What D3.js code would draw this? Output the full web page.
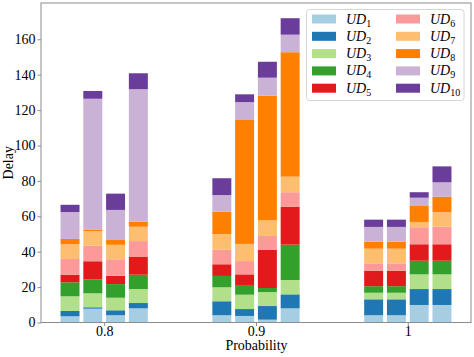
<!DOCTYPE html>
<html>
<head>
<meta charset="utf-8">
<script src="https://cdn.jsdelivr.net/npm/d3@7"></script>
<style>
  html, body { margin: 0; padding: 0; background: #fff; }
  svg { display: block; font-family: "Liberation Serif", "Times New Roman", serif; }
</style>
</head>
<body>
<svg id="chart" width="474" height="357"></svg>
<script>
// Groups on the x axis (probability) and 4 bars per group
const categories = ["0.8", "0.9", "1"];
const barsPerGroup = 4;
const yTicks = [0, 20, 40, 60, 80, 100, 120, 140, 160];
const seriesNames = ["1","2","3","4","5","6","7","8","9","10"];
const colors = ["#a6cee3","#1f78b4","#b2df8a","#33a02c","#e31a1c","#fb9a99","#fdbf6f","#ff7f00","#cab2d6","#6a3d9a"];

// Values per UD, 12 bars each: [0.8 b1..b4, 0.9 b1..b4, 1 b1..b4]
const UD1  = [3.5, 7.8, 4.1, 8.0,   4.1, 3.7, 1.6, 8.0,    4.1, 4.1, 9.9, 9.9];
const UD2  = [3.0, 0.8, 2.8, 3.0,   7.9, 3.9, 7.7, 7.9,    9.0, 9.0, 9.0, 9.0];
const UD3  = [8.3, 7.9, 7.1, 7.9,   7.9, 8.1, 7.9, 8.1,    3.7, 3.7, 8.3, 8.3];
const UD4  = [7.9, 7.9, 7.7, 8.1,   6.4, 5.5, 2.3, 20.0,   3.7, 3.7, 7.7, 7.7];
const UD5  = [4.3, 10.2, 4.7, 10.0, 6.6, 6.0, 21.5, 21.3,  8.8, 8.8, 9.3, 9.3];
const UD6  = [8.9, 8.8, 9.3, 9.0,   8.2, 7.5, 7.9, 8.3,    4.1, 4.1, 9.6, 9.9];
const UD7  = [8.3, 8.3, 8.2, 8.1,   8.9, 9.7, 8.8, 8.8,    8.3, 8.3, 3.0, 8.2];
const UD8  = [3.0, 0.6, 2.7, 2.8,   12.6, 70.0, 70.4, 70.3, 3.9, 3.9, 9.0, 8.8];
const UD9  = [15.2, 74.1, 17.0, 74.9, 9.4, 10.1, 10.2, 9.9, 8.4, 8.4, 4.7, 8.1];
const UD10 = [4.1, 4.4, 9.2, 9.0,   9.5, 4.4, 9.0, 9.3,    4.1, 4.1, 3.1, 9.0];
const series = [UD1, UD2, UD3, UD4, UD5, UD6, UD7, UD8, UD9, UD10];

const svg = d3.select("#chart");
const plot = { left: 41, right: 471, top: 3, bottom: 322.5 };
const barWidth = 0.125, barStep = 0.15;

// Build bar records
const bars = [];
for (let i = 0; i < series[0].length; i++) {
  const g = Math.floor(i / barsPerGroup), k = i % barsPerGroup;
  const center = g + (k - (barsPerGroup - 1) / 2) * barStep;
  let acc = 0;
  const segs = series.map((s, j) => { const y0 = acc; acc += s[i]; return { y0, y1: acc, j }; });
  bars.push({ center, segs, total: acc });
}
const xmin = d3.min(bars, b => b.center - barWidth / 2), xmax = d3.max(bars, b => b.center + barWidth / 2);
const xpad = (xmax - xmin) * 0.05;
const x = d3.scaleLinear().domain([xmin - xpad, xmax + xpad]).range([plot.left, plot.right]);
const ymax = d3.max(bars, b => b.total) * 1.05;
const y = d3.scaleLinear().domain([0, ymax]).range([plot.bottom, plot.top]);

// Bars
const gb = svg.append("g");
bars.forEach(b => {
  gb.selectAll(null).data(b.segs).enter().append("rect")
    .attr("x", x(b.center - barWidth / 2))
    .attr("width", x(b.center + barWidth / 2) - x(b.center - barWidth / 2))
    .attr("y", d => y(d.y1))
    .attr("height", d => y(d.y0) - y(d.y1))
    .attr("fill", d => colors[d.j]);
});

// Frame
svg.append("rect").attr("x", plot.left).attr("y", plot.top)
  .attr("width", plot.right - plot.left).attr("height", plot.bottom - plot.top)
  .attr("fill", "none").attr("stroke", "#8c8c8c").attr("stroke-width", 1);

// Y axis
const yAxis = d3.axisLeft(y).tickValues(yTicks).tickSize(3.5).tickPadding(2).tickFormat(d3.format("d"));
const gy = svg.append("g").attr("transform", `translate(${plot.left},0)`).call(yAxis);
gy.select(".domain").remove();
gy.selectAll("line").attr("stroke", "#8c8c8c");
gy.selectAll("text").attr("font-size", 14).attr("fill", "#000").attr("font-family", "Liberation Serif");

// X axis
const xAxis = d3.axisBottom(x).tickValues(categories.map((c, i) => i)).tickFormat((d, i) => categories[i]).tickSize(3.5).tickPadding(0);
const gx = svg.append("g").attr("transform", `translate(0,${plot.bottom})`).call(xAxis);
gx.select(".domain").remove();
gx.selectAll("line").attr("stroke", "#8c8c8c");
gx.selectAll("text").attr("font-size", 14).attr("fill", "#000").attr("font-family", "Liberation Serif");

// Axis labels
svg.append("text").attr("x", (plot.left + plot.right) / 2 + 0.5).attr("y", 350)
  .attr("text-anchor", "middle").attr("font-size", 14).text("Probability");
svg.append("text").attr("transform", `translate(13,${(plot.top + plot.bottom) / 2}) rotate(-90)`)
  .attr("text-anchor", "middle").attr("font-size", 14).text("Delay");

// Legend
const lg = svg.append("g");
lg.append("rect").attr("x", 306.5).attr("y", 9.5).attr("width", 157.5).attr("height", 91)
  .attr("rx", 3).attr("fill", "#fff").attr("fill-opacity", 0.85).attr("stroke", "#d6d6d6");
seriesNames.forEach((n, i) => {
  const col = Math.floor(i / 5), row = i % 5;
  const px = col === 0 ? 312 : 396;
  const cy = 19 + row * 17.3;
  lg.append("rect").attr("x", px).attr("y", cy - 4.5).attr("width", 24).attr("height", 9).attr("fill", colors[i]);
  const t = lg.append("text").attr("x", px + 34).attr("y", cy + 4.5).attr("font-size", 14);
  t.append("tspan").attr("font-style", "italic").text("UD");
  t.append("tspan").attr("font-size", 10).attr("dy", 3).text(n);
});
</script>
</body>
</html>
